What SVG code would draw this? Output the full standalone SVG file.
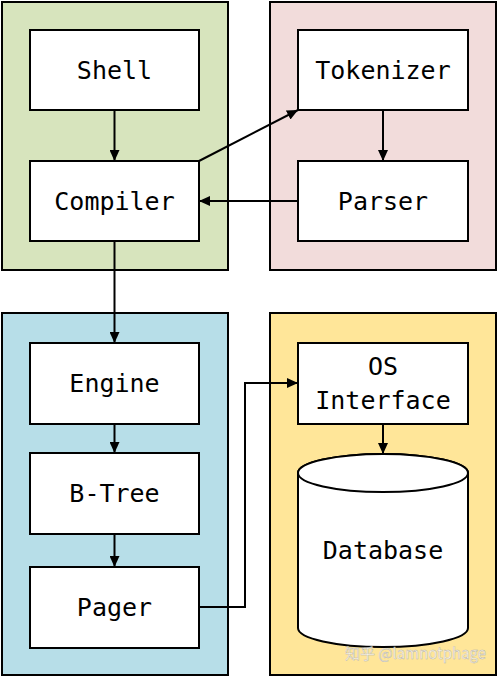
<svg xmlns="http://www.w3.org/2000/svg" width="498" height="677" viewBox="0 0 498 677">
<defs>
<marker id="ah" viewBox="0 0 11 10" refX="11" refY="5" markerWidth="11" markerHeight="10" markerUnits="userSpaceOnUse" orient="auto">
<path d="M0,0 L11,5 L0,10 Z" fill="#000"/>
</marker>
</defs>
<style>
.panel{stroke:#000;stroke-width:2}
.box{fill:#fff;stroke:#000;stroke-width:2}
.lbl{font-family:"DejaVu Sans Mono","Liberation Mono",monospace;font-size:25px;fill:#000;text-anchor:middle}
.con{fill:none;stroke:#000;stroke-width:2;marker-end:url(#ah)}
</style>
<rect width="498" height="677" fill="#fff"/>
<g id="panels">
<rect class="panel" x="2" y="2" width="226" height="268" fill="#d7e4bd"/>
<rect class="panel" x="270" y="2" width="226" height="268" fill="#f2dcdb"/>
<rect class="panel" x="2" y="313" width="226" height="362" fill="#b7dee8"/>
<rect class="panel" x="270" y="313" width="226" height="362" fill="#ffe699"/>
</g>
<g id="shell"><rect class="box" x="30" y="30" width="169" height="80"/><text class="lbl" x="114.5" y="79">Shell</text></g>
<g id="compiler"><rect class="box" x="30" y="161" width="169" height="80"/><text class="lbl" x="114.5" y="210">Compiler</text></g>
<g id="tokenizer"><rect class="box" x="298" y="30" width="170" height="80"/><text class="lbl" x="383" y="79">Tokenizer</text></g>
<g id="parser"><rect class="box" x="298" y="161" width="170" height="80"/><text class="lbl" x="383" y="210">Parser</text></g>
<g id="engine"><rect class="box" x="30" y="343" width="169" height="81"/><text class="lbl" x="114.5" y="392">Engine</text></g>
<g id="btree"><rect class="box" x="30" y="453" width="169" height="81"/><text class="lbl" x="114.5" y="502">B-Tree</text></g>
<g id="pager"><rect class="box" x="30" y="567" width="169" height="81"/><text class="lbl" x="114.5" y="616">Pager</text></g>
<g id="osinterface"><rect class="box" x="298" y="343" width="170" height="81"/><text class="lbl" x="383" y="375">OS</text><text class="lbl" x="383" y="409">Interface</text></g>
<g id="database">
<path class="box" d="M298,473 L298,628 A85,19 0 0 0 468,628 L468,473 A85,19 0 0 0 298,473 Z"/>
<ellipse class="box" cx="383" cy="473" rx="85" ry="19"/>
<text class="lbl" x="383" y="559">Database</text>
</g>
<g id="connectors">
<line class="con" x1="114.5" y1="110" x2="114.5" y2="161"/>
<line class="con" x1="199" y1="161" x2="298" y2="110"/>
<line class="con" x1="383" y1="110" x2="383" y2="161"/>
<line class="con" x1="298" y1="201" x2="199" y2="201"/>
<line class="con" x1="114.5" y1="241" x2="114.5" y2="343"/>
<line class="con" x1="114.5" y1="424" x2="114.5" y2="453"/>
<line class="con" x1="114.5" y1="534" x2="114.5" y2="567"/>
<polyline class="con" points="199,607 245,607 245,383 298,383"/>
<line class="con" x1="383" y1="424" x2="383" y2="454"/>
</g>
<text x="345" y="659" font-family="'Noto Sans CJK SC','Noto Sans',sans-serif" font-size="15" fill="#ffffff" fill-opacity="0.75" stroke="#b0b0b0" stroke-width="0.4">知乎 @lamnotphage</text>
</svg>
